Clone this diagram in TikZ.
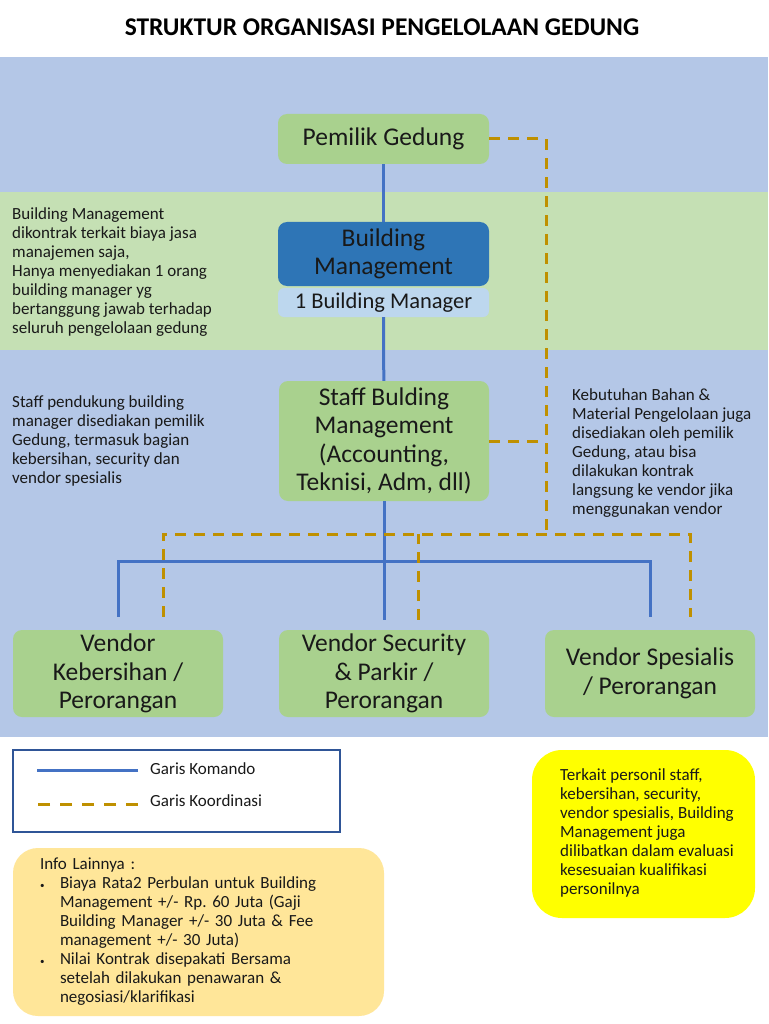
\documentclass[tikz,border=0pt]{standalone}
\usepackage{fontspec}
\setmainfont{Carlito}
\usetikzlibrary{positioning}
\definecolor{bandblue}{HTML}{B4C7E7}
\definecolor{bandgreen}{HTML}{C5E0B4}
\definecolor{boxgreen}{HTML}{A9D18E}
\definecolor{bmblue}{HTML}{2E75B6}
\definecolor{bmlight}{HTML}{BDD7EE}
\definecolor{cmdblue}{HTML}{4472C4}
\definecolor{coordgold}{HTML}{BF9000}
\definecolor{infoyellow}{HTML}{FFE699}
\definecolor{noteyellow}{HTML}{FFFF00}
\definecolor{legendblue}{HTML}{2F5597}
\frenchspacing

\begin{document}
\begin{tikzpicture}[x=1pt,y=-1pt,
  unit/.style={rectangle,rounded corners=9pt,minimum width=211pt,align=center,inner sep=2pt,text=black!90,font=\fontsize{25.5}{28.5}\selectfont},
  vendor/.style={unit,fill=boxgreen,minimum width=210pt,minimum height=87pt},
  komando/.style={cmdblue,line width=3pt},
  koord/.style={coordgold,line width=3pt,dash pattern=on 11pt off 8pt},
  note/.style={anchor=north west,align=left,inner sep=0pt,text=black!90,font=\fontsize{17}{19}\selectfont},
  infobox/.style={rectangle,rounded corners=25pt,align=left,inner xsep=27pt,text=black!90,font=\fontsize{17}{19}\selectfont}]
\useasboundingbox (0,0) rectangle (768,1024);
\fill [white] (0,0) rectangle (768,1024);
\fill [bandblue] (0,57) rectangle (768,192);
\fill [bandgreen] (0,192) rectangle (768,350);
\fill [bandblue] (0,350) rectangle (768,737);
\node [font=\bfseries\fontsize{25.5}{28}\selectfont] (title) at (382,27) {STRUKTUR ORGANISASI PENGELOLAAN GEDUNG};
\node [unit,fill=boxgreen,minimum height=50pt] (pemilik) at (383.5,139) {Pemilik Gedung};
\node [unit,fill=bmblue,minimum height=64pt] (bm) at (383.5,254) {Building\\Management};
\node [unit,fill=bmlight,minimum height=29pt,rounded corners=6pt,font=\fontsize{22.5}{25}\selectfont] (bmgr) at (383.5,302.5) {1 Building Manager};
\node [unit,fill=boxgreen,minimum height=120pt,minimum width=210pt] (staff) at (384,441) {Staff Bulding\\Management\\(Accounting,\\Teknisi, Adm, dll)};
\node [vendor] (keb) at (118,673.5) {Vendor\\Kebersihan /\\Perorangan};
\node [vendor] (sec) at (384,673.5) {Vendor Security\\\& Parkir /\\Perorangan};
\node [vendor] (spes) at (650,673.5) {Vendor Spesialis\\/ Perorangan};
\node [note] (bmnote) at (12,207) {Building Management\\dikontrak terkait biaya jasa\\manajemen saja,\\Hanya menyediakan 1 orang\\building manager yg\\bertanggung jawab terhadap\\seluruh pengelolaan gedung};
\node [note] (staffnote) at (12,395) {Staff pendukung building\\manager disediakan pemilik\\Gedung, termasuk bagian\\kebersihan, security dan\\vendor spesialis};
\node [note] (bahannote) at (572,388) {Kebutuhan Bahan \&\\Material Pengelolaan juga\\disediakan oleh pemilik\\Gedung, atau bisa\\dilakukan kontrak\\langsung ke vendor jika\\menggunakan vendor};
\coordinate (bus) at (383,561);
\coordinate (kr) at (546,534);
\draw [komando] (pemilik) -- (bm);
\draw [komando] (bmgr) -- (staff);
\draw [komando] (staff) -- ([yshift=10pt]sec.north);
\draw [komando] ([yshift=13pt]keb.north) |- (bus) -| ([yshift=13pt]spes.north);
\draw [koord] (pemilik.east) -| (kr);
\draw [koord] (staff.east) -- (staff.east -| kr);
\draw [koord] ([xshift=45pt,yshift=13pt]keb.north) |- (kr) -| ([xshift=40pt,yshift=13pt]spes.north);
\draw [koord] ([xshift=34pt,yshift=10pt]sec.north) -- ([xshift=34pt]sec.north |- kr);
\node [draw=legendblue,line width=1.2pt,minimum width=327pt,minimum height=82pt] (legend) at (176.5,791) {};
\node [anchor=west,inner sep=0pt,text=black!90,font=\fontsize{17}{19}\selectfont] (lkom) at (150,769) {Garis Komando};
\node [anchor=west,inner sep=0pt,text=black!90,font=\fontsize{17}{19}\selectfont] (lkoord) at (150,801) {Garis Koordinasi};
\draw [komando] ([xshift=-12pt,yshift=-1pt]lkom.west) -- ++(-101,0);
\draw [koord,dash pattern=on 12pt off 10pt] ([xshift=-12pt,yshift=-3pt]lkoord.west) -- ++(-101,0);
\node [infobox,fill=infoyellow,minimum width=371pt,minimum height=168pt,text width=317pt] (info) at (198.5,932) {Info Lainnya :\\
\makebox[20pt][l]{\small\textbullet}Biaya Rata2 Perbulan untuk Building\\
\hspace*{20pt}Management +/- Rp. 60 Juta (Gaji\\
\hspace*{20pt}Building Manager +/- 30 Juta \& Fee\\
\hspace*{20pt}management +/- 30 Juta)\\
\makebox[20pt][l]{\small\textbullet}Nilai Kontrak disepakati Bersama\\
\hspace*{20pt}setelah dilakukan penawaran \&\\
\hspace*{20pt}negosiasi/klarifikasi};
\node [fill=noteyellow,rounded corners=30pt,minimum width=223pt,minimum height=168pt] (personil) at (643.5,834) {};
\node [note] (personiltext) at (560,768) {Terkait personil staff,\\kebersihan, security,\\vendor spesialis, Building\\Management juga\\dilibatkan dalam evaluasi\\kesesuaian kualifikasi\\personilnya};
\end{tikzpicture}
\end{document}
